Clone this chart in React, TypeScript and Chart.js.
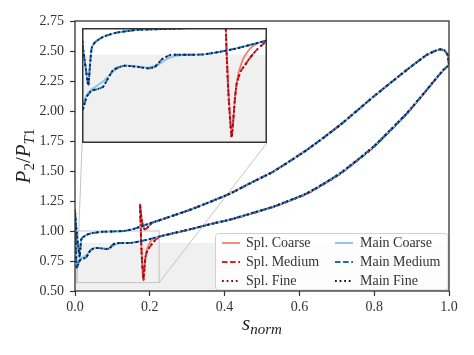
import React, { useEffect, useRef } from "react";
import { Chart, registerables } from "chart.js";
Chart.register(...registerables);

// ---------- data ----------
const xTickValues = [0, 0.2, 0.4, 0.6, 0.8, 1.0];
const yTickValues = [0.5, 0.75, 1.0, 1.25, 1.5, 1.75, 2.0, 2.25, 2.5, 2.75];

// Main blade, upper branch (medium / fine)
const mainUpperX = [0, 0.002, 0.004, 0.006, 0.009, 0.0125, 0.0145, 0.0165, 0.02, 0.03, 0.045, 0.07, 0.1, 0.13, 0.15, 0.175, 0.2, 0.25, 0.307, 0.36, 0.414, 0.47, 0.53, 0.62, 0.709, 0.798, 0.887, 0.94, 0.962, 0.976, 0.988, 0.996, 1.0];
const mainUpperY = [1.17, 1.08, 1.0, 0.93, 0.86, 0.785, 0.86, 0.925, 0.945, 0.967, 0.982, 0.993, 0.996, 1.0, 1.012, 1.035, 1.064, 1.115, 1.175, 1.24, 1.31, 1.4, 1.494, 1.675, 1.883, 2.119, 2.342, 2.467, 2.5, 2.514, 2.505, 2.47, 2.39];
// Main blade, lower branch (medium / fine)
const mainLowerX = [0, 0.002, 0.004, 0.006, 0.0106, 0.0165, 0.024, 0.03, 0.036, 0.042, 0.05, 0.056, 0.07, 0.084, 0.092, 0.1, 0.11, 0.13, 0.149, 0.169, 0.189, 0.225, 0.26, 0.307, 0.36, 0.414, 0.441, 0.53, 0.62, 0.709, 0.798, 0.887, 0.94, 0.965, 0.985, 0.995, 1.0];
const mainLowerY = [1.17, 0.88, 0.7, 0.695, 0.743, 0.766, 0.772, 0.78, 0.812, 0.843, 0.855, 0.859, 0.855, 0.849, 0.855, 0.883, 0.899, 0.9, 0.901, 0.911, 0.924, 0.953, 0.98, 1.014, 1.055, 1.095, 1.119, 1.203, 1.314, 1.481, 1.703, 1.981, 2.175, 2.27, 2.342, 2.37, 2.39];
// Main blade, lower branch (coarse)
const mainLowerCoarseX = [0, 0.002, 0.004, 0.006, 0.0106, 0.0165, 0.024, 0.03, 0.036, 0.042, 0.05, 0.056, 0.07, 0.084, 0.095, 0.105, 0.115, 0.13, 0.149, 0.169, 0.189, 0.225, 0.26, 0.307, 0.36, 0.414, 0.441, 0.53, 0.62, 0.709, 0.798, 0.887, 0.94, 0.965, 0.985, 0.995, 1.0];
const mainLowerCoarseY = [1.17, 0.88, 0.71, 0.715, 0.75, 0.771, 0.787, 0.8, 0.818, 0.837, 0.853, 0.86, 0.857, 0.852, 0.862, 0.882, 0.895, 0.9, 0.901, 0.911, 0.924, 0.953, 0.98, 1.014, 1.055, 1.095, 1.119, 1.203, 1.314, 1.481, 1.703, 1.981, 2.175, 2.27, 2.342, 2.37, 2.39];

// Splitter, upper branch (all meshes)
const splUpperX = [0.174, 0.1755, 0.178, 0.181, 0.184, 0.187, 0.191, 0.196, 0.2, 0.205, 0.225, 0.26, 0.307, 0.36, 0.414, 0.47, 0.53, 0.62, 0.709, 0.798, 0.887, 0.94, 0.962, 0.976, 0.988, 0.996, 1.0];
const splUpperY = [1.22, 1.17, 1.1, 1.05, 1.025, 1.014, 1.02, 1.036, 1.05, 1.066, 1.088, 1.126, 1.177, 1.242, 1.312, 1.402, 1.496, 1.677, 1.885, 2.12, 2.343, 2.466, 2.499, 2.512, 2.503, 2.468, 2.39];
// Splitter, lower branch (medium / fine)
const splLowerX = [0.174, 0.1755, 0.177, 0.179, 0.181, 0.183, 0.185, 0.187, 0.189, 0.194, 0.199, 0.204, 0.209, 0.214, 0.219, 0.225, 0.26, 0.307, 0.36, 0.414, 0.441, 0.53, 0.62, 0.709, 0.798, 0.887, 0.94, 0.965, 0.985, 0.995, 1.0];
const splLowerY = [1.22, 1.05, 0.9, 0.76, 0.66, 0.59, 0.66, 0.74, 0.793, 0.84, 0.862, 0.885, 0.905, 0.922, 0.936, 0.953, 0.978, 1.012, 1.057, 1.093, 1.117, 1.2, 1.31, 1.476, 1.697, 1.976, 2.172, 2.268, 2.34, 2.37, 2.39];
// Splitter, lower branch (coarse)
const splLowerCoarseX = [0.174, 0.1755, 0.177, 0.179, 0.181, 0.183, 0.185, 0.187, 0.191, 0.197, 0.205, 0.215, 0.225, 0.26, 0.307, 0.36, 0.414, 0.441, 0.53, 0.62, 0.709, 0.798, 0.887, 0.94, 0.965, 0.985, 0.995, 1.0];
const splLowerCoarseY = [1.22, 1.06, 0.92, 0.78, 0.68, 0.605, 0.66, 0.743, 0.831, 0.887, 0.924, 0.945, 0.955, 0.979, 1.013, 1.056, 1.094, 1.118, 1.201, 1.312, 1.478, 1.699, 1.978, 2.173, 2.269, 2.341, 2.37, 2.39];

const seriesLabels = ["Spl. Coarse", "Spl. Medium", "Spl. Fine", "Main Coarse", "Main Medium", "Main Fine"];

// ---------- styles / layout ----------
const seriesColors = ["#f3806d", "#d6202a", "#8a0c18", "#86c3e6", "#1f6bb0", "#0b1a3c"];
const seriesDash: number[][] = [[], [5.5, 2.6], [1.8, 2.8], [], [5.5, 2.6], [1.8, 2.8]];
const FONT = "'Liberation Serif', 'DejaVu Serif', serif";
const INK = "#333333";
const W = 474;
const H = 355;
const insetView = { xMin: 0.005, xMax: 0.225, yMin: 0.57, yMax: 1.0 };
const insetPlace = { xMin: 0.019, xMax: 0.513, yMin: 1.733, yMax: 2.692 };
const bandTop = 0.9;

function pts(xs: number[], ys: number[]) {
  return xs.map((x, i) => ({ x, y: ys[i] }));
}
function loop(ux: number[], uy: number[], lx: number[], ly: number[]) {
  return pts(ux, uy).reverse().concat(pts(lx, ly).slice(1));
}

function buildDatasets() {
  const loops = [
    loop(splUpperX, splUpperY, splLowerCoarseX, splLowerCoarseY),
    loop(splUpperX, splUpperY, splLowerX, splLowerY),
    loop(splUpperX, splUpperY, splLowerX, splLowerY),
    loop(mainUpperX, mainUpperY, mainLowerCoarseX, mainLowerCoarseY),
    loop(mainUpperX, mainUpperY, mainLowerX, mainLowerY),
    loop(mainUpperX, mainUpperY, mainLowerX, mainLowerY),
  ];
  return loops.map((data, i) => ({
    label: seriesLabels[i],
    data,
    order: loops.length - i,
    showLine: true,
    borderColor: seriesColors[i],
    backgroundColor: seriesColors[i],
    borderWidth: i % 3 === 0 ? 1.8 : 1.9,
    borderDash: seriesDash[i],
    pointRadius: 0,
    pointHoverRadius: 0,
    tension: 0.15,
    fill: false,
  }));
}

function drawParts(ctx: CanvasRenderingContext2D, parts: { t: string; it: boolean; sz: number; dy: number }[], cx: number, baseY: number) {
  let total = 0;
  const widths = parts.map((p) => {
    ctx.font = `${p.it ? "italic " : ""}${p.sz}px ${FONT}`;
    const w = ctx.measureText(p.t).width;
    total += w;
    return w;
  });
  let x = cx - total / 2;
  parts.forEach((p, i) => {
    ctx.font = `${p.it ? "italic " : ""}${p.sz}px ${FONT}`;
    ctx.fillText(p.t, x, baseY + p.dy);
    x += widths[i];
  });
}

export default function App() {
  const mainRef = useRef<HTMLCanvasElement>(null);
  const insetRef = useRef<HTMLCanvasElement>(null);

  useEffect(() => {
    const decor = {
      id: "decor",
      beforeDatasetsDraw(chart: any) {
        const { ctx, chartArea: a, scales } = chart;
        const xs = scales.x, ys = scales.y;
        ctx.save();
        const yb = ys.getPixelForValue(bandTop);
        ctx.fillStyle = "#f0f0f0";
        ctx.fillRect(a.left, yb, a.right - a.left, a.bottom - yb);
        const rx0 = xs.getPixelForValue(insetView.xMin), rx1 = xs.getPixelForValue(insetView.xMax);
        const ry0 = ys.getPixelForValue(insetView.yMax), ry1 = ys.getPixelForValue(insetView.yMin);
        ctx.strokeStyle = "#c4c4c4";
        ctx.lineWidth = 1;
        ctx.strokeRect(rx0, ry0, rx1 - rx0, ry1 - ry0);
        const ix0 = xs.getPixelForValue(insetPlace.xMin), ix1 = xs.getPixelForValue(insetPlace.xMax);
        const iy1 = ys.getPixelForValue(insetPlace.yMin);
        ctx.beginPath();
        ctx.moveTo(ix0, iy1);
        ctx.lineTo(rx0, ry1);
        ctx.moveTo(ix1, iy1);
        ctx.lineTo(rx1, ry1);
        ctx.stroke();
        ctx.restore();
      },
      afterDatasetsDraw(chart: any) {
        const { ctx, chartArea: a } = chart;
        ctx.save();
        const bx0 = 215, by0 = 233, bx1 = a.right - 1.5, by1 = a.bottom - 1.5;
        ctx.beginPath();
        (ctx as any).roundRect(bx0 + 0.5, by0 + 0.5, bx1 - bx0, by1 - by0, 3);
        ctx.fillStyle = "rgba(255,255,255,0.85)";
        ctx.fill();
        ctx.strokeStyle = "#d0d0d0";
        ctx.lineWidth = 1;
        ctx.stroke();
        chart.data.datasets.forEach((ds: any, i: number) => {
          const col = Math.floor(i / 3), row = i % 3;
          const sx = col === 0 ? 222 : 335;
          const tx = col === 0 ? 246 : 360;
          const yy = 243 + row * 19;
          ctx.beginPath();
          ctx.setLineDash(ds.borderDash);
          ctx.strokeStyle = ds.borderColor;
          ctx.lineWidth = ds.borderWidth;
          ctx.moveTo(sx, yy);
          ctx.lineTo(sx + 18, yy);
          ctx.stroke();
          ctx.setLineDash([]);
          ctx.fillStyle = INK;
          ctx.font = `14px ${FONT}`;
          ctx.textBaseline = "middle";
          ctx.fillText(ds.label, tx, yy + 0.5);
        });
        ctx.strokeStyle = INK;
        ctx.lineWidth = 1.3;
        ctx.strokeRect(a.left, a.top, a.right - a.left, a.bottom - a.top);
        ctx.restore();
      },
      afterDraw(chart: any) {
        const { ctx, chartArea: a } = chart;
        ctx.save();
        ctx.fillStyle = "#222";
        ctx.textBaseline = "alphabetic";
        drawParts(ctx, [
          { t: "s", it: true, sz: 21, dy: 0 },
          { t: "norm", it: true, sz: 15, dy: 4 },
        ], (a.left + a.right) / 2, 330);
        ctx.translate(30, (a.top + a.bottom) / 2);
        ctx.rotate(-Math.PI / 2);
        drawParts(ctx, [
          { t: "P", it: true, sz: 21, dy: 0 },
          { t: "2", it: false, sz: 15, dy: 4 },
          { t: "/", it: false, sz: 21, dy: 0 },
          { t: "P", it: true, sz: 21, dy: 0 },
          { t: "T", it: true, sz: 15, dy: 4 },
          { t: "1", it: false, sz: 15, dy: 4 },
        ], 0, 0);
        ctx.restore();
      },
    };

    const tickFont = { family: FONT, size: 14 };
    const main = new Chart(mainRef.current!, {
      type: "scatter",
      data: { datasets: buildDatasets() as any },
      options: {
        animation: false,
        responsive: false,
        devicePixelRatio: 1,
        layout: { padding: { left: 0, top: 21, right: 25, bottom: 0 } },
        plugins: { legend: { display: false }, tooltip: { enabled: false } },
        scales: {
          x: {
            type: "linear",
            min: 0,
            max: 1,
            afterBuildTicks: (s: any) => { s.ticks = xTickValues.map((v) => ({ value: v })); },
            afterFit: (s: any) => { s.height = H - 291; },
            ticks: { font: tickFont, color: INK, padding: 3, maxRotation: 0, callback: (v: any) => Number(v).toFixed(1) },
            grid: { drawOnChartArea: false, drawTicks: true, tickLength: 5, tickWidth: 1.2, tickColor: INK },
            border: { display: false },
          },
          y: {
            type: "linear",
            min: 0.5,
            max: 2.75,
            afterBuildTicks: (s: any) => { s.ticks = yTickValues.map((v) => ({ value: v })); },
            afterFit: (s: any) => { s.width = 75; },
            ticks: { font: tickFont, color: INK, padding: 6, callback: (v: any) => Number(v).toFixed(2) },
            grid: { drawOnChartArea: false, drawTicks: true, tickLength: 5, tickWidth: 1.2, tickColor: INK },
            border: { display: false },
          },
        },
      },
      plugins: [decor],
    });

    const xs: any = main.scales.x, ys: any = main.scales.y;
    const left = Math.round(xs.getPixelForValue(insetPlace.xMin));
    const right = Math.round(xs.getPixelForValue(insetPlace.xMax));
    const top = Math.round(ys.getPixelForValue(insetPlace.yMax));
    const bottom = Math.round(ys.getPixelForValue(insetPlace.yMin));
    const ic = insetRef.current!;
    ic.width = right - left;
    ic.height = bottom - top;
    ic.style.left = left + "px";
    ic.style.top = top + "px";
    ic.style.width = right - left + "px";
    ic.style.height = bottom - top + "px";

    const insetDecor = {
      id: "insetDecor",
      beforeDatasetsDraw(chart: any) {
        const { ctx, chartArea: a, scales } = chart;
        ctx.save();
        ctx.fillStyle = "#ffffff";
        ctx.fillRect(0, 0, chart.width, chart.height);
        const yb = scales.y.getPixelForValue(bandTop);
        ctx.fillStyle = "#f0f0f0";
        ctx.fillRect(a.left, yb, a.right - a.left, a.bottom - yb);
        ctx.restore();
      },
      afterDatasetsDraw(chart: any) {
        const { ctx } = chart;
        ctx.save();
        ctx.strokeStyle = INK;
        ctx.lineWidth = 1.5;
        ctx.strokeRect(0.75, 0.75, chart.width - 1.5, chart.height - 1.5);
        ctx.restore();
      },
    };

    const inset = new Chart(ic, {
      type: "scatter",
      data: { datasets: buildDatasets() as any },
      options: {
        animation: false,
        responsive: false,
        devicePixelRatio: 1,
        layout: { padding: 0 },
        plugins: { legend: { display: false }, tooltip: { enabled: false } },
        scales: {
          x: { type: "linear", display: false, min: insetView.xMin, max: insetView.xMax },
          y: { type: "linear", display: false, min: insetView.yMin, max: insetView.yMax },
        },
      },
      plugins: [insetDecor],
    });

    return () => {
      inset.destroy();
      main.destroy();
    };
  }, []);

  return (
    <div style={{ position: "absolute", left: 0, top: 0, width: W, height: H, background: "#fff" }}>
      <canvas ref={mainRef} width={W} height={H} style={{ position: "absolute", left: 0, top: 0, width: W, height: H }} />
      <canvas ref={insetRef} style={{ position: "absolute" }} />
    </div>
  );
}
